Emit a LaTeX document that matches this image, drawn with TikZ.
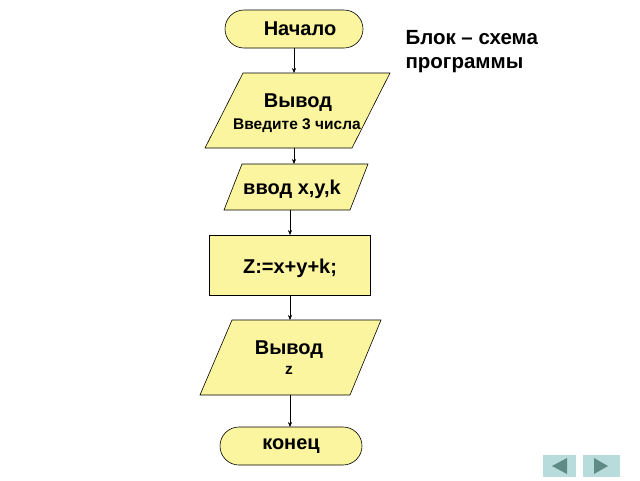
\documentclass[tikz,border=0pt]{standalone}
\usepackage{fontspec}
\setmainfont{Liberation Sans}
\usetikzlibrary{arrows.meta}
\definecolor{fillY}{HTML}{FBF5A0}
\definecolor{btn}{HTML}{B8DCDC}
\definecolor{tri}{HTML}{5F8A86}
\begin{document}
\begin{tikzpicture}[x=1pt,y=-1pt,
  blk/.style={draw=black,fill=fillY,line width=0.6pt},
  conn/.style={draw=black,line width=0.5pt,-{Stealth[length=5pt,width=4pt]}},
  big/.style={font=\bfseries\fontsize{20}{24}\selectfont},
  small/.style={font=\bfseries\fontsize{15.5}{18}\selectfont}]
\useasboundingbox (0,0) rectangle (640,480);
% start
\draw[blk,rounded corners=19pt] (225,10) rectangle (363,48);
\node[big] (start) at (300,29) {Начало};
\coordinate (startB) at (294,48);
% output 1
\draw[blk] (243,73) -- (390,73) -- (352,148) -- (205,148) -- cycle;
\node[big] (out1) at (298,103) {Вывод};
\node[small] (out1b) at (297,126) {Введите 3 числа};
\coordinate (out1T) at (294,73); \coordinate (out1B) at (294,148);
% input
\draw[blk] (242,164) -- (368,164) -- (350,210) -- (224,210) -- cycle;
\node[big] (in) at (292,189) {ввод x,y,k};
\coordinate (inT) at (294,164); \coordinate (inB) at (290,210);
% process
\draw[blk] (209,235) rectangle (370,295);
\node[big] (proc) at (290,268) {Z:=x+y+k;};
\coordinate (procT) at (290,235); \coordinate (procB) at (290,295);
% output 2
\draw[blk] (232,320) -- (381,320) -- (350,395) -- (200,395) -- cycle;
\node[big] (out2) at (289,350) {Вывод};
\node[small] (out2b) at (289,370) {z};
\coordinate (out2T) at (290,320); \coordinate (out2B) at (290,395);
% end
\draw[blk,rounded corners=19pt] (220,427) rectangle (362,465);
\node[big] (end) at (291,446) {конец};
\coordinate (endT) at (290,427);
% connectors
\draw[conn] (startB) -- (out1T);
\draw[conn] (out1B) -- (inT);
\draw[conn] (inB) -- (procT);
\draw[conn] (procB) -- (out2T);
\draw[conn] (out2B) -- (endT);
% title
\node[font=\bfseries\fontsize{20.5}{24}\selectfont,anchor=west,align=left] (title) at (402,52) {Блок – схема\\программы};
% buttons
\fill[btn] (543,455) rectangle (576,477);
\fill[btn] (583,455) rectangle (620,477);
\fill[tri] (552,466) -- (567,458) -- (567,474) -- cycle;
\fill[tri] (608,466) -- (594,458) -- (594,474) -- cycle;
\end{tikzpicture}
\end{document}
